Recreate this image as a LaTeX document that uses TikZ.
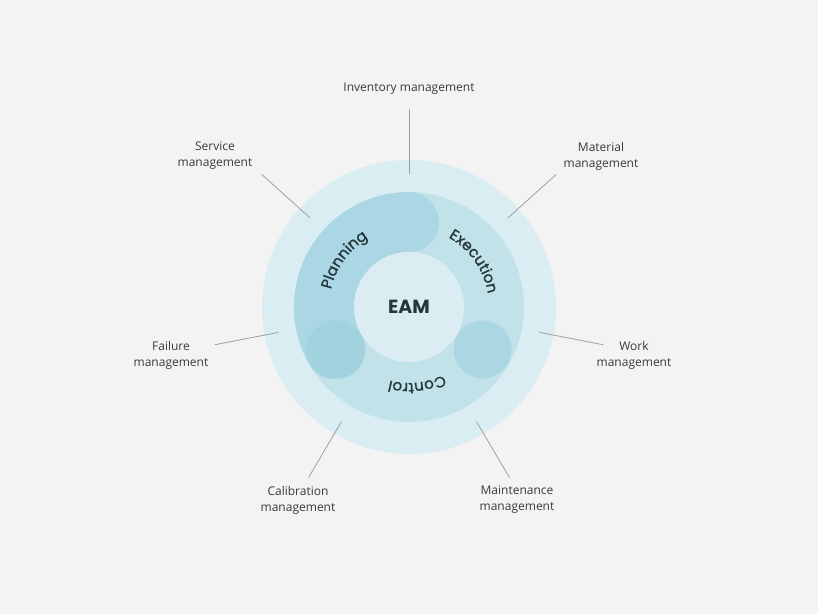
\documentclass[tikz,border=0pt]{standalone}
\usepackage{fontspec}
\setmainfont{Open Sans}
\newfontfamily\ringfont{Poppins}
\newfontfamily\ringmed{Poppins}[FakeBold=1.2]
\usetikzlibrary{decorations.text}

\definecolor{bgcol}{HTML}{F3F3F3}
\definecolor{outercol}{HTML}{D9EDF2}
\definecolor{ringcol}{HTML}{C2E2EA}
\definecolor{plancol}{HTML}{AAD7E3}
\definecolor{capleftcol}{HTML}{A3D2DF}
\definecolor{caprightcol}{HTML}{ABD7E3}
\definecolor{corecol}{HTML}{DBEDF2}
\definecolor{labelcol}{HTML}{3A3A3A}
\definecolor{ringtext}{HTML}{26373C}
\definecolor{leadcol}{HTML}{A0A0A0}

\tikzstyle{disc}=[circle, inner sep=0pt]
\tikzstyle{topic}=[align=center, text=labelcol, inner sep=0pt, font=\fontsize{12}{16}\selectfont]
\tikzstyle{leader}=[draw, leadcol, line width=0.8pt]
\tikzstyle{ringword}=[decorate, decoration={text along path, text align=center, text color=ringtext}]

\begin{document}
\begin{tikzpicture}[x=1pt, y=1pt]

    \useasboundingbox[fill=bgcol] (-409,-307) rectangle (409,307);

    % rings
    \node[disc, fill=outercol, minimum size=294pt] (outer) at (0,0) {};
    \node[disc, fill=ringcol, minimum size=230pt] (ring) at (0,0) {};
    \draw[plancol, line width=60pt, line cap=round] (210:85) arc[start angle=210, end angle=90, radius=85];

    \foreach \ang/\name/\col in {210/capleft/capleftcol, 330/capright/caprightcol}
        \node[disc, fill=\col, minimum size=58pt] (\name) at (\ang:85) {};

    \node[disc, fill=corecol, minimum size=110pt, text=ringtext, font=\ringfont\bfseries\fontsize{19}{22}\selectfont] (eam) at (0,0) {EAM};

    % words along the ring
    \path[ringword, decoration={text={|\ringmed\fontsize{15}{18}\selectfont|Planning}}]
        (184:80) arc[start angle=184, end angle=104, radius=80];
    \path[ringword, decoration={text={|\ringmed\fontsize{15}{18}\selectfont|Execution}}]
        (75:80) arc[start angle=75, end angle=-5, radius=80];
    \path[ringword, decoration={text={|\ringmed\fontsize{15}{18}\selectfont|Control}}]
        (316:76) arc[start angle=316, end angle=236, radius=76];

    % labels and leaders
    \foreach \name/\ang/\x/\y/\txt in {inventory/90/0/218/{Inventory management},
        service/138/-194/151/{Service\\management},
        material/42/192/151/{Material\\management},
        failure/191/-238/-48/{Failure\\management},
        work/349/225/-48/{Work\\management},
        calibration/239.5/-111/-193/{Calibration\\management},
        maintenance/300.5/108/-193/{Maintenance\\management}}
    {
        \node[topic] (\name) at (\x,\y) {\txt};
        \coordinate (\name-out) at (\ang:198);
        \coordinate (\name-in) at (\ang:133);
        \path[leader] (\name-out) -- (\name-in);
    }

\end{tikzpicture}
\end{document}
